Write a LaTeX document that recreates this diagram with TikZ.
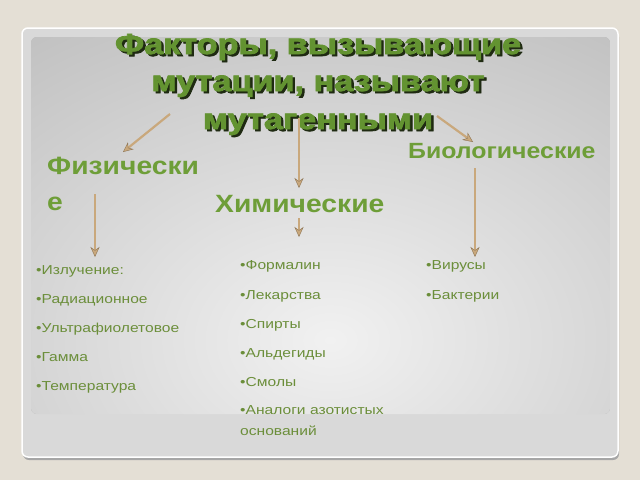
\documentclass[tikz,border=0pt]{standalone}
\usepackage{fontspec}
\setmainfont{Liberation Sans}
\newfontfamily\titlefont[FakeBold=2.5]{Liberation Sans}
\usetikzlibrary{arrows.meta,shadings}
\definecolor{bgbeige}{HTML}{E4DFD5}
\definecolor{outerpanel}{HTML}{D9D9D9}
\definecolor{innerdark}{HTML}{B6B6B6}
\definecolor{innerlight}{HTML}{F1F1F1}
\definecolor{titlegreen}{HTML}{639331}
\definecolor{titleshadow}{HTML}{1F2A12}
\definecolor{headgreen}{HTML}{6E9E38}
\definecolor{listgreen}{HTML}{6B8E3A}
\definecolor{arrowtan}{HTML}{C9A87C}
\definecolor{arrowedge}{HTML}{8C7352}
\tikzset{
  titleline/.style={font=\titlefont\bfseries\fontsize{29}{35}\selectfont, text=titlegreen, inner sep=0pt, anchor=base},
  headtext/.style={font=\bfseries\fontsize{25}{30}\selectfont, text=headgreen, inner sep=0pt, anchor=base west},
  headsmall/.style={headtext, font=\bfseries\fontsize{22}{26}\selectfont},
  listtext/.style={font=\fontsize{13}{16}\selectfont, text=listgreen, inner sep=0pt, anchor=base west},
  flowarrow/.style={draw=arrowtan, line width=2.2pt, -{Stealth[length=10pt,width=9pt,fill=arrowtan,color=arrowedge,line width=0.4pt]}},
}
\newcommand{\shadowtext}[1]{\scalebox{1.18}[1]{\makebox[0pt][l]{\raisebox{-2pt}{\hspace{2pt}\color{titleshadow}#1}}#1}}
\newcommand{\widetext}[1]{\scalebox{1.13}[1]{#1}}
\newcommand{\widelist}[1]{\scalebox{1.2}[1]{#1}}
\begin{document}
\begin{tikzpicture}[x=1pt,y=-1pt]
\useasboundingbox (0,0) rectangle (640,480);
\fill[bgbeige] (0,0) rectangle (640,480);
% outer panel with shadow
\fill[gray!70, rounded corners=6pt] (23,31) rectangle (619,460);
\fill[outerpanel, draw=white, line width=1.5pt, rounded corners=6pt] (22,28) rectangle (618,457);
% inner panel
\begin{scope}
  \clip[rounded corners=6pt] (31,37) rectangle (610,414);
  \fill[innerdark] (31,37) rectangle (610,414);
  \shade[inner color=innerlight, outer color=innerdark] (330,340) ellipse [x radius=640, y radius=460];
\end{scope}
% title
\node[titleline] (t1) at (318,54) {\shadowtext{Факторы, вызывающие}};
\node[titleline] (t2) at (318,91) {\shadowtext{мутации, называют}};
\node[titleline] (t3) at (318,129) {\shadowtext{мутагенными}};
% headings
\node[headtext] (phys) at (47,174) {\widetext{Физически}};
\node[headtext] (phys2) at (47,210) {\widetext{е}};
\node[headtext] (chem) at (215,212) {\widetext{Химические}};
\node[headsmall] (bio) at (408,158) {\widetext{Биологические}};
% arrows
\coordinate (a1s) at (170,114);
\coordinate (a1e) at (123,152);
\coordinate (a2s) at (299,118);
\coordinate (a2e) at (299,188);
\coordinate (a3s) at (437,116);
\coordinate (a3e) at (473,142);
\coordinate (a4s) at (95,194);
\coordinate (a4e) at (95,257);
\coordinate (a5s) at (299,218);
\coordinate (a5e) at (299,237);
\coordinate (a6s) at (475,168);
\coordinate (a6e) at (475,257);
\draw[flowarrow] (a1s) -- (a1e);
\draw[flowarrow] (a2s) -- (a2e);
\draw[flowarrow] (a3s) -- (a3e);
\draw[flowarrow] (a4s) -- (a4e);
\draw[flowarrow] (a5s) -- (a5e);
\draw[flowarrow] (a6s) -- (a6e);
% lists
\node[listtext] (p1) at (36,274) {\widelist{•Излучение:}};
\node[listtext] (p2) at (36,303) {\widelist{•Радиационное}};
\node[listtext] (p3) at (36,332) {\widelist{•Ультрафиолетовое}};
\node[listtext] (p4) at (36,361) {\widelist{•Гамма}};
\node[listtext] (p5) at (36,390) {\widelist{•Температура}};
\node[listtext] (c1) at (240,269) {\widelist{•Формалин}};
\node[listtext] (c2) at (240,299) {\widelist{•Лекарства}};
\node[listtext] (c3) at (240,328) {\widelist{•Спирты}};
\node[listtext] (c4) at (240,357) {\widelist{•Альдегиды}};
\node[listtext] (c5) at (240,386) {\widelist{•Смолы}};
\node[listtext] (c6) at (240,414) {\widelist{•Аналоги азотистых}};
\node[listtext] (c7) at (240,435) {\widelist{оснований}};
\node[listtext] (b1) at (426,269) {\widelist{•Вирусы}};
\node[listtext] (b2) at (426,299) {\widelist{•Бактерии}};
\end{tikzpicture}
\end{document}
